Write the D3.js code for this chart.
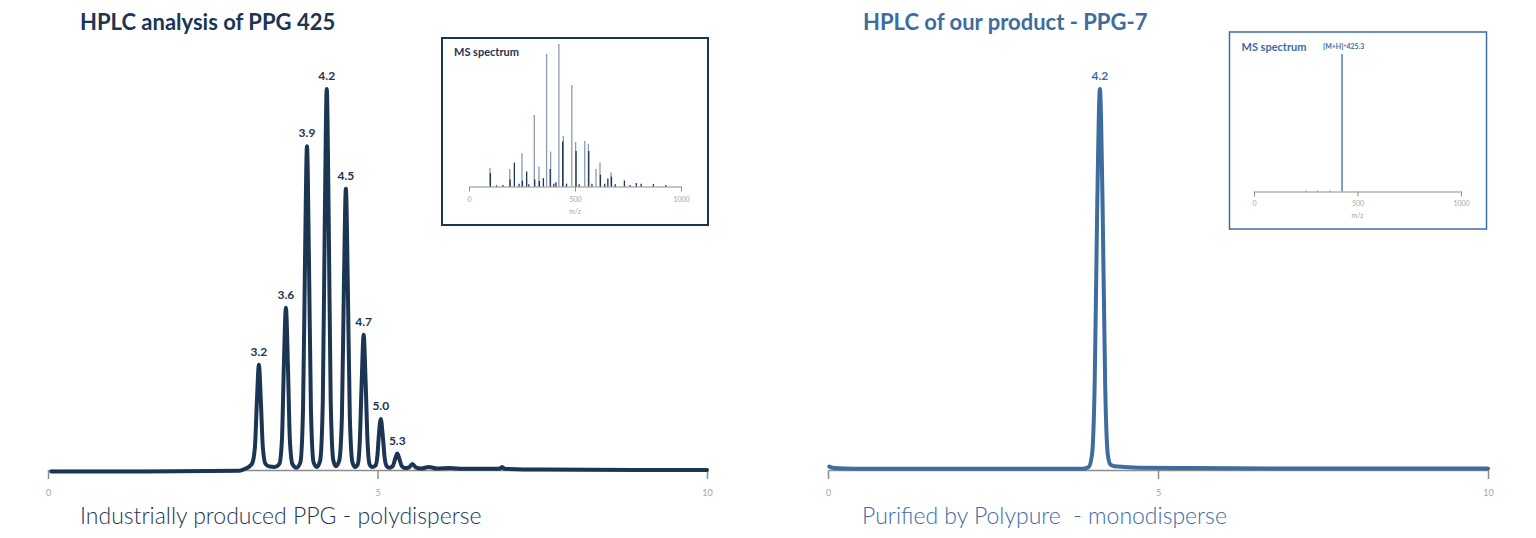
<!DOCTYPE html>
<html>
<head>
<meta charset="utf-8">
<script src="https://cdn.jsdelivr.net/npm/d3@7"></script>
<style>
  body { margin: 0; background: #fff; }
  svg { display: block; font-family: Lato, "Open Sans", sans-serif; }
  .axis path, .axis line { stroke: #8c8c8c; stroke-width: 1.5; }
  .axis text { fill: #a6a6a6; font-family: Lato, sans-serif; }
</style>
</head>
<body>
<svg id="chart" width="1536" height="538"></svg>
<script>
// retention time (min) vs relative signal
const leftTrace = [
  [0.05,-0.4],[1.5,-0.4],[2.9,-0.2],[3.0,0.4],[3.06,1.0],[3.10,1.8],[3.14,6],[3.17,18],[3.20,27.6],[3.23,18],[3.26,6],[3.30,1.6],
  [3.36,0.9],[3.44,0.8],[3.51,1.6],[3.55,8],[3.58,28],[3.61,42.6],[3.64,28],[3.67,8],[3.71,1.5],[3.77,0.6],
  [3.83,2],[3.87,16],[3.90,55],[3.93,85],[3.96,55],[3.99,16],[4.03,2],[4.08,0.8],
  [4.13,2.5],[4.17,18],[4.20,65],[4.23,100],[4.26,65],[4.29,18],[4.33,2.5],[4.37,1.0],
  [4.42,2.5],[4.46,14],[4.49,48],[4.52,73.8],[4.55,48],[4.58,14],[4.62,2],[4.66,0.8],
  [4.70,1.5],[4.73,7],[4.76,23],[4.79,35.5],[4.82,23],[4.85,7],[4.88,1.5],[4.92,0.8],
  [4.97,1.2],[5.00,4],[5.02,9],[5.05,13.4],[5.08,9],[5.11,3],[5.14,1],[5.18,0.6],
  [5.23,1],[5.27,3],[5.30,4.3],[5.33,3],[5.37,1],[5.42,0.5],[5.48,0.7],[5.53,1.6],[5.58,0.7],
  [5.66,0.4],[5.78,0.8],[5.9,0.4],[6.1,0.5],[6.3,0.3],[6.85,0.3],[6.89,0.8],[6.93,0.3],[7.5,0.1],[10,0]
];
const rightTrace = [
  [0.02,0.9],[0.1,0.5],[0.4,0.3],[2,0.3],[3.85,0.3],[3.95,0.8],[4.00,4],[4.04,22],[4.08,70],[4.12,100],
  [4.16,70],[4.20,22],[4.24,4],[4.28,1.4],[4.34,1.0],[4.5,0.8],[4.7,0.6],[5.5,0.5],[7,0.4],[10,0.4]
];

const leftPeakTimes = [3.20, 3.61, 3.93, 4.23, 4.52, 4.79, 5.05, 5.30];
const leftPeakHeights = [27.6, 42.6, 85, 100, 73.8, 35.5, 13.4, 4.3];
const leftPeakLabels = ["3.2", "3.6", "3.9", "4.2", "4.5", "4.7", "5.0", "5.3"];
const rightPeakTimes = [4.12];
const rightPeakHeights = [100];
const rightPeakLabels = ["4.2"];

const timeTicks = [0, 5, 10];
const mzTicks = [0, 500, 1000];

// MS inset, polydisperse sample: two overlaid spectra
const msLightMz = [99, 192, 250, 308, 330, 366, 385, 424, 445, 485, 503, 546, 563, 599, 618, 670];
const msLightInt = [12.9, 12.2, 23.4, 50.2, 14, 93, 24.5, 100, 35.5, 71.3, 31.3, 32, 30, 12.2, 16.8, 9.8];
const msDarkMz = [101, 130, 160, 194, 214, 236, 252, 272, 282, 310, 332, 351, 383, 400, 410, 442, 460, 505, 520, 565, 580, 620, 640, 655, 672, 690, 733, 760, 789, 812, 870, 928];
const msDarkInt = [9.4, 0.8, 1, 5, 16.8, 2, 4, 10.5, 1.5, 5, 4, 5.9, 12.2, 2, 3, 31.5, 2, 25, 1.5, 25, 2, 8.2, 2, 5.6, 7, 1.5, 4.2, 1, 2.4, 1.9, 1.7, 1.0];
// MS inset, purified product
const msPureMz = [250, 307, 367, 425.3];
const msPureInt = [0.6, 0.6, 0.6, 100];

const navy = "#1c3553";
const blue = "#3d6c9f";
const lightStick = "#8b9bb0";

const svg = d3.select("#chart");

function drawPanel(o) {
  const x = d3.scaleLinear().domain([0, 10]).range([o.x0, o.x1]);
  const y = d3.scaleLinear().domain([0, 100]).range([470, 89]);
  const g = svg.append("g");

  g.append("text")
    .attr("x", o.titleX).attr("y", 30)
    .attr("fill", o.color)
    .style("font-size", "22px").style("font-weight", 700)
    .text(o.title);

  const axis = g.append("g")
    .attr("class", "axis")
    .attr("transform", "translate(0,470)")
    .call(d3.axisBottom(x).tickValues(timeTicks).tickSize(9).tickSizeOuter(0).tickPadding(11));
  axis.selectAll("text").style("font-size", "9px");

  const line = d3.line()
    .x(d => x(d[0]))
    .y(d => y(d[1]))
    .curve(d3.curveMonotoneX);

  g.append("path")
    .datum(o.trace)
    .attr("d", line)
    .attr("fill", "none")
    .attr("stroke", o.color)
    .attr("stroke-width", 4)
    .attr("stroke-linejoin", "round")
    .attr("stroke-linecap", "round");

  g.selectAll(".peak-label")
    .data(o.peakTimes)
    .join("text")
    .attr("class", "peak-label")
    .attr("x", d => x(d))
    .attr("y", (d, i) => y(o.peakHeights[i]) - 9)
    .attr("text-anchor", "middle")
    .attr("fill", o.color)
    .style("font-size", "12px").style("font-weight", 700)
    .text((d, i) => o.peakLabels[i]);

  g.append("text")
    .attr("x", o.subX).attr("y", 524)
    .attr("fill", o.color)
    .style("font-size", "23px").style("font-weight", 300)
    .style("white-space", "pre")
    .text(o.subtitle);
}

function drawInset(o) {
  const g = svg.append("g");
  g.append("rect")
    .attr("x", o.box[0]).attr("y", o.box[1])
    .attr("width", o.box[2]).attr("height", o.box[3])
    .attr("fill", "#fff")
    .attr("stroke", o.color)
    .attr("stroke-width", o.boxStroke);

  g.append("text")
    .attr("x", o.box[0] + 12).attr("y", o.titleY)
    .attr("fill", o.color)
    .style("font-size", "11px").style("font-weight", 700)
    .text("MS spectrum");

  const x = d3.scaleLinear().domain([0, 1000]).range([o.x0, o.x1]);
  const y = d3.scaleLinear().domain([0, 100]).range([o.axisY, o.topY]);

  const axis = g.append("g")
    .attr("class", "axis")
    .attr("transform", `translate(0,${o.axisY})`)
    .call(d3.axisBottom(x).tickValues(mzTicks).tickFormat(d3.format("d"))
      .tickSize(5).tickSizeOuter(0).tickPadding(o.pad));
  axis.select(".domain").style("stroke-width", 1);
  axis.selectAll("line").style("stroke-width", 1);
  axis.selectAll("text").style("font-size", "7px");

  g.append("text")
    .attr("x", x(500)).attr("y", o.axisY + o.mzDy)
    .attr("text-anchor", "middle")
    .attr("fill", "#a6a6a6")
    .style("font-size", "7px")
    .text("m/z");

  o.series.forEach(s => {
    g.selectAll(null)
      .data(s.mz)
      .join("line")
      .attr("x1", d => x(d)).attr("x2", d => x(d))
      .attr("y1", o.axisY)
      .attr("y2", (d, i) => y(s.int[i]))
      .attr("stroke", s.color)
      .attr("stroke-width", s.width);
  });

  if (o.note) {
    const t = g.append("text")
      .attr("x", o.note.x).attr("y", o.note.y)
      .attr("fill", o.color)
      .style("font-size", "7px").style("font-weight", 700);
    t.append("tspan").text("[M+H]");
    t.append("tspan").attr("dy", -2.5).style("font-size", "5px").text("+");
    t.append("tspan").attr("dy", 2.5).text("425.3");
  }
}

drawPanel({
  x0: 48, x1: 707, color: navy, trace: leftTrace,
  title: "HPLC analysis of PPG 425", titleX: 80,
  subtitle: "Industrially produced PPG - polydisperse", subX: 80,
  peakTimes: leftPeakTimes, peakHeights: leftPeakHeights, peakLabels: leftPeakLabels
});
drawPanel({
  x0: 828, x1: 1488, color: blue, trace: rightTrace,
  title: "HPLC of our product - PPG-7", titleX: 863,
  subtitle: "Purified by Polypure  - monodisperse", subX: 862,
  peakTimes: rightPeakTimes, peakHeights: rightPeakHeights, peakLabels: rightPeakLabels
});

drawInset({
  box: [442, 38, 266, 187], boxStroke: 2, color: navy, titleY: 56,
  x0: 469, x1: 681, axisY: 186.5, topY: 44, pad: 5.5, mzDy: 27,
  series: [
    { mz: msLightMz, int: msLightInt, color: lightStick, width: 1.3 },
    { mz: msDarkMz, int: msDarkInt, color: navy, width: 1.3 }
  ]
});
drawInset({
  box: [1229.5, 32, 257, 197], boxStroke: 1.5, color: blue, titleY: 51,
  x0: 1254, x1: 1461, axisY: 191.5, topY: 54, pad: 4.5, mzDy: 26,
  series: [{ mz: msPureMz, int: msPureInt, color: blue, width: 1.3 }],
  note: { x: 1323, y: 49 }
});
</script>
</body>
</html>
